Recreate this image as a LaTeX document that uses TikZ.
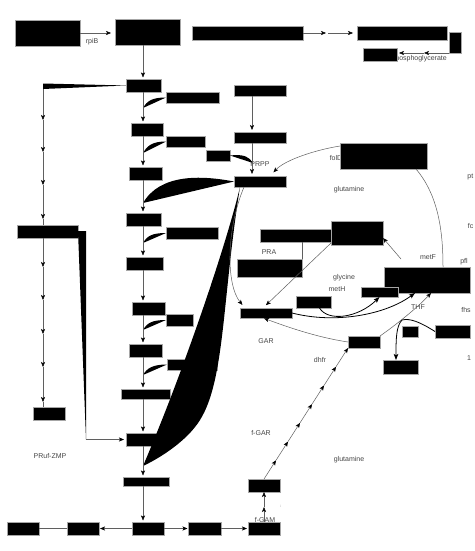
\documentclass[tikz,border=0pt]{standalone}
\usepackage{fontspec}
\setmainfont{Liberation Sans}
\usetikzlibrary{arrows.meta,calc}
\definecolor{linegray}{RGB}{95,95,95}
\definecolor{txtgray}{RGB}{70,70,70}
\newcommand\bx[5]{%
 \pgfmathsetmacro\bxW{#4-#2}%
 \pgfmathsetmacro\bxH{#5-#3}%
 \pgfmathsetmacro\bxX{(#2+#4)/2}%
 \pgfmathsetmacro\bxY{(#3+#5)/2}%
 \node[blk,minimum width=\bxW pt,minimum height=\bxH pt] (#1) at (\bxX,\bxY) {};}
\begin{document}
\begin{tikzpicture}[x=1pt,y=-1pt,
 blk/.style={fill=black,draw=gray!70,line width=0.3pt,inner sep=0pt,outer sep=0pt},
 ln/.style={draw=linegray,line width=0.5pt},
 arr/.style={ln,-{Stealth[length=5pt,width=4pt,inset=1.2pt,color=black]}},
 thk/.style={draw=black,line width=0.8pt,-{Stealth[length=6pt,width=4.5pt,inset=1.2pt]}},
 lbl/.style={text=txtgray,font=\fontsize{7}{8.4}\selectfont,inner sep=0pt}]
\useasboundingbox (0,0) rectangle (474,551);
\fill[white] (0,0) rectangle (474,551);
% labels (under boxes)
\node[lbl] (t1) at (92,42) {rpiB};
\node[lbl] (t2) at (416,59) {3-phosphoglycerate};
\node[lbl] (t3) at (260,164) {PRPP};
\node[lbl] (t4) at (336,158) {folD};
\node[lbl] (t5) at (349,190) {glutamine};
\node[lbl] (t6) at (269,252) {PRA};
\node[lbl] (t7) at (344,278) {glycine};
\node[lbl] (t8) at (337,289) {metH};
\node[lbl] (t9) at (428,257) {metF};
\node[lbl] (t10) at (464,262) {pfl};
\node[lbl,anchor=east] (t11) at (473.5,177) {pt};
\node[lbl,anchor=east] (t12) at (473.5,226) {fc};
\node[lbl] (t13) at (466,310) {fhs};
\node[lbl] (t14) at (418,307) {THF};
\node[lbl,anchor=west] (t15) at (467,358) {1};
\node[lbl] (t16) at (266,341) {GAR};
\node[lbl] (t17) at (320,360) {dhfr};
\node[lbl] (t18) at (261,433) {f-GAR};
\node[lbl] (t19) at (349,460) {glutamine};
\node[lbl] (t20) at (50,456) {PRuf-ZMP};
\node[lbl,font=\fontsize{4}{4}\selectfont] (t21) at (281,506) {:};
% boxes
\bx{A}{15}{20}{80}{46}
\bx{B}{115}{19}{180}{45}
\bx{C}{192}{26}{303}{40}
\bx{D}{357}{26}{447}{40}
\bx{E}{449}{32}{461}{53}
\bx{F}{363}{48}{397}{61}
\bx{G1}{126}{79}{161}{92}
\bx{H1}{166}{92}{219}{103}
\bx{G2}{131}{123}{163}{136}
\bx{H2}{166}{136}{205}{147}
\bx{H3}{206}{150}{230}{161}
\bx{G3}{129}{167}{162}{180}
\bx{G4}{126}{213}{161}{226}
\bx{H4}{166}{227}{218}{239}
\bx{G5}{126}{257}{163}{270}
\bx{G6}{132}{302}{165}{315}
\bx{H6}{166}{314}{193}{326}
\bx{G7}{129}{344}{162}{357}
\bx{H7}{167}{359}{217}{370}
\bx{G8}{121}{389}{170}{399}
\bx{G9}{126}{433}{160}{446}
\bx{G10}{123}{477}{169}{486}
\bx{Q1}{7}{522}{39}{535}
\bx{Q2}{67}{522}{99}{535}
\bx{Q3}{132}{522}{164}{535}
\bx{Q4}{188}{522}{221}{535}
\bx{Q5}{248}{522}{280}{535}
\bx{FG}{248}{479}{280}{492}
\bx{LA}{17}{225}{78}{238}
\bx{LB}{33}{407}{65}{420}
\bx{J1}{234}{85}{286}{96}
\bx{J2}{234}{132}{286}{143}
\bx{J3}{234}{176}{286}{187}
\bx{L}{340}{143}{427}{169}
\bx{M1}{260}{229}{340}{242}
\bx{M2}{331}{221}{383}{245}
\bx{N}{237}{259}{302}{277}
\bx{P}{240}{308}{292}{318}
\bx{Qb}{296}{296}{331}{308}
\bx{R}{384}{267}{470}{293}
\bx{R2}{361}{287}{398}{297}
\bx{K}{348}{336}{380}{348}
\bx{S}{402}{326}{418}{337}
\bx{T}{435}{325}{470}{338}
\bx{U}{383}{360}{418}{374}
\node[lbl] (t22) at (265,520) {f-GAM};
% coordinates
\coordinate (sp) at (143,0);
\coordinate (jx) at (252,0);
\coordinate (tp1) at (143,108);
\coordinate (tp2) at (143,153);
\coordinate (tp3) at (143,203);
\coordinate (tp4) at (143,243);
\coordinate (tp6) at (143,330);
\coordinate (tp7) at (143,375);
\coordinate (tpb) at (143,466);
\coordinate (pp) at (253,163);
\coordinate (hs) at ([xshift=6pt]J3.south west);
\coordinate (lg) at (86,439.5);
% filled wedges
\fill (G1.west) -- (43,83.5) -- (43,89) -- cycle;
\fill (H1.west) .. controls +(-14,0) and +(4,-7) .. (tp1) -- cycle;
\fill (H2.west) .. controls +(-14,0) and +(4,-7) .. (tp2) -- cycle;
\fill (H4.west) .. controls +(-14,0) and +(4,-7) .. (tp4) -- cycle;
\fill (H6.west) .. controls +(-14,0) and +(4,-7) .. (tp6) -- cycle;
\fill (H7.west) .. controls +(-14,0) and +(4,-7) .. (tp7) -- cycle;
\fill (J3.west) .. controls (200,175) and (160,174) .. (tp3) -- cycle;
\fill (H3.east) .. controls +(15,-1.5) and +(-4,-6) .. (pp) -- cycle;
\fill (hs) .. controls (222,300) and (225,380) .. (200,420) .. controls (187,441) and (160,458) .. (tpb) .. controls (180,380) and (225,250) .. (hs) -- cycle;
\fill (78,231) -- (86,231) -- (lg) -- cycle;
% top row
\draw[arr,shorten >=4pt] (A.east) -- (A.east -| B.west);
\coordinate (c1) at (326,33);
\draw[arr] (C.east) -- (c1);
\draw[arr,shorten >=4pt] ([xshift=2pt]c1) -- (C.east -| D.west);
\coordinate (e1) at (424,53);
\draw[arr] (E.south west) -- (e1);
\draw[arr,shorten >=2pt] (e1) -- (e1 -| F.east);
% spine
\draw[arr,shorten >=1.5pt] (B.south -| sp) -- (G1.north -| sp);
\foreach \a/\b in {G1/G2,G2/G3,G3/G4,G4/G5,G5/G6,G6/G7,G7/G8,G8/G9,G9/G10,G10/Q3}
  \draw[arr,shorten >=1.5pt] (\a.south -| sp) -- (\b.north -| sp);
% left column
\foreach \n/\y in {0/89,1/120,2/152,3/185,4/219} \coordinate (lc\n) at (43,\y);
\foreach \a/\b in {0/1,1/2,2/3,3/4} \draw[arr] (lc\a) -- (lc\b);
\draw[ln] (lc4) -- (LA.north -| lc4);
\foreach \n/\y in {0/238,1/267,2/300,3/334,4/367,5/402} \coordinate (ld\n) at (43,\y);
\foreach \a/\b in {0/1,1/2,2/3,3/4,4/5} \draw[arr] (ld\a) -- (ld\b);
\draw[ln] (ld5) -- (LB.north -| ld5);
\draw[arr,shorten >=2pt] (lg) -- (G9.west);
% bottom row
\draw[arr,shorten >=1pt] (Q3.west) -- (Q2.east);
\draw[ln] (Q2.west) -- (Q1.east);
\draw[arr,shorten >=0.5pt] (Q3.east) -- (Q4.west);
\draw[arr,shorten >=1pt] (Q4.east) -- (Q5.west);
\coordinate (fm) at ($(Q5.north)!0.5!(FG.south)$);
\draw[arr] (Q5.north) -- (fm);
\draw[arr] (fm) -- (FG.south);
% f-GAR chain
\coordinate (fg0) at (FG.north);
\coordinate (fg7) at (K.south west);
\foreach \i in {1,...,7}{
  \pgfmathsetmacro\ta{(\i-1)/7}\pgfmathsetmacro\tb{\i/7}
  \draw[arr] ($(fg0)!\ta!(fg7)$) -- ($(fg0)!\tb!(fg7)$);}
% J column
\draw[arr,shorten >=2pt] (J1.south -| jx) -- (J2.north -| jx);
\draw[arr,shorten >=2pt] (J2.south -| jx) -- (J3.north -| jx);
\draw[arr,shorten >=5pt] ([yshift=-3pt]L.north west) .. controls (315,150) and (285,160) .. ([xshift=10pt]J3.north);
\draw[ln] ([xshift=-11pt]L.south east) .. controls (438,195) and (443,230) .. ([xshift=16pt]R.north);
\draw[arr,shorten >=4pt] ([xshift=10pt]J3.south west) .. controls (226,230) and (226,285) .. ([xshift=5pt]P.north west);
\draw[ln] (N.north east |- M1.south) -- (N.north east);
\draw[arr,shorten >=4pt] ([yshift=2pt]M2.south west) -- ([xshift=-3pt]P.north);
\draw[arr] (401,259) coordinate (mf) -- ([yshift=-5pt]M2.east);
\draw[arr,shorten >=1pt] (K.west) .. controls (315,337) and (285,326) .. ([xshift=-3pt]P.south);
% THF arrows
\draw[thk] (P.east) .. controls (335,324) and (385,315) .. ([xshift=-12pt]R.south);
\draw[thk] ([xshift=6pt]Qb.south) .. controls (328,322) and (358,318) .. (R2.south);
\draw[arr] (K.north east) .. controls (400,322) and (420,305) .. ([xshift=4pt]R.south);
\draw[thk] (T.west) .. controls (420,322) and (410,318) .. (402,320) .. controls (396,326) and (396,340) .. ([xshift=-4.5pt]U.north);
\end{tikzpicture}
\end{document}
